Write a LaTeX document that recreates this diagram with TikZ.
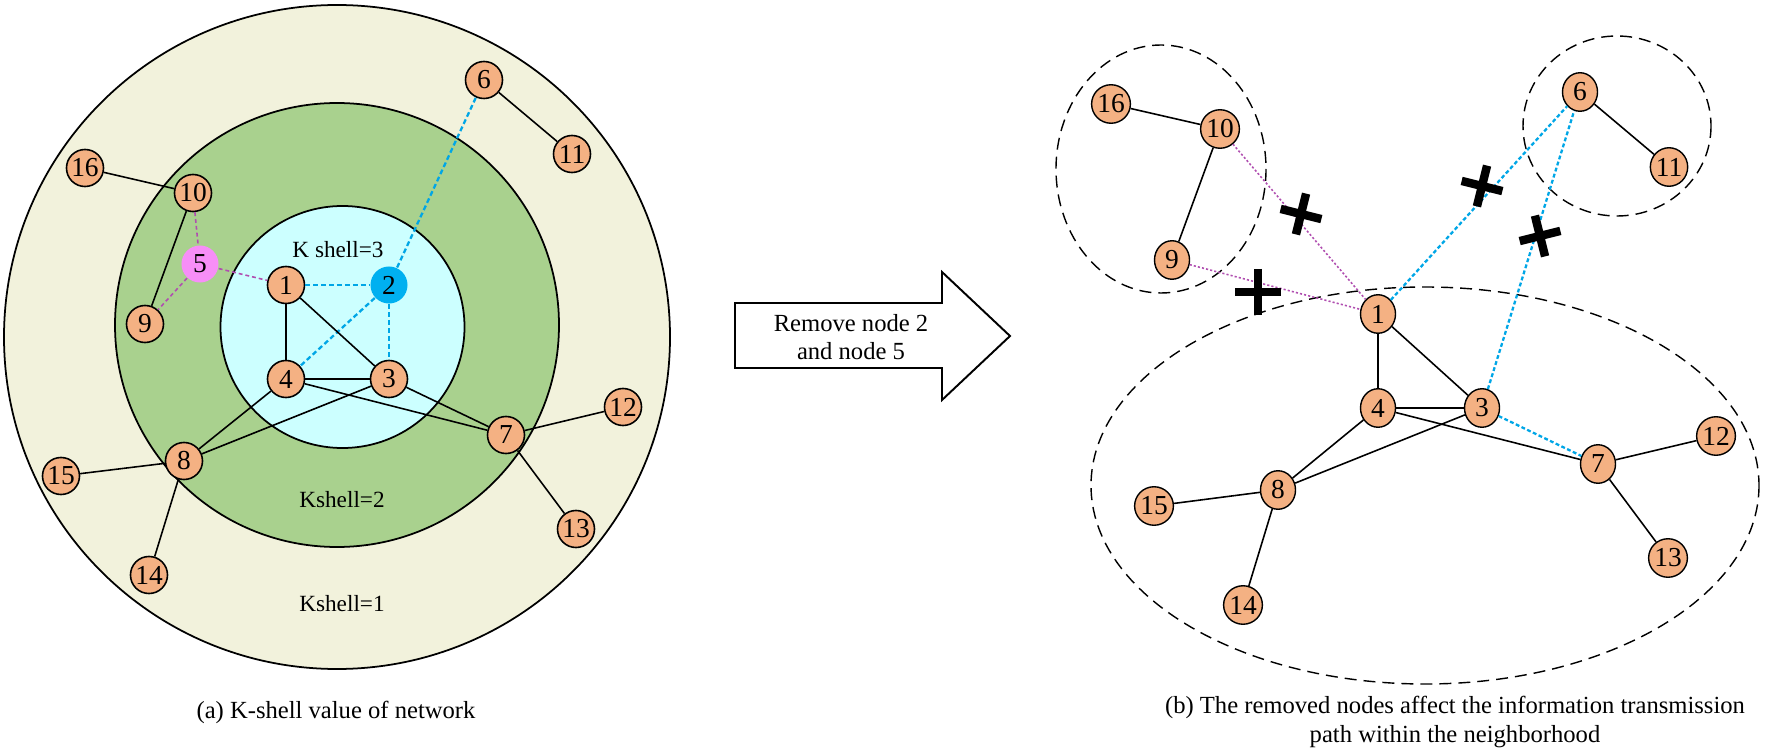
\documentclass[tikz,border=0pt]{standalone}
\usepackage{fontspec}
\setmainfont{Liberation Serif}
\usetikzlibrary{shapes.geometric}
\definecolor{nodeor}{HTML}{F4B183}
\definecolor{shellone}{HTML}{F2F2DC}
\definecolor{shelltwo}{HTML}{A9D18E}
\definecolor{shellthree}{HTML}{CCFFFF}
\definecolor{bluenode}{HTML}{00B0F0}
\definecolor{pinknode}{HTML}{F78EF7}
\definecolor{magline}{HTML}{B04EB0}
\definecolor{blueline}{HTML}{00A6E6}
\begin{document}
\begin{tikzpicture}[x=0.01cm,y=-0.01cm,
  nd/.style={circle,draw=black,line width=0.45pt,fill=nodeor,minimum size=0.37cm,inner sep=0pt,font=\fontsize{7.8}{8}\selectfont},
  rnd/.style={ellipse,draw=black,line width=0.4pt,fill=nodeor,minimum width=0.35cm,minimum height=0.385cm,inner sep=0pt,font=\fontsize{7.8}{8}\selectfont},
  sedge/.style={line width=0.45pt},
  magedge/.style={draw=magline,line width=0.45pt,dash pattern=on 1.1pt off 0.85pt},
  blueedge/.style={draw=blueline,line width=0.65pt,dash pattern=on 1.4pt off 0.85pt},
  rmagedge/.style={draw=magline,line width=0.45pt,dash pattern=on 0.6pt off 0.6pt},
  rblueedge/.style={draw=blueline,line width=0.65pt,dash pattern=on 1.1pt off 0.7pt},
  shelltxt/.style={font=\fontsize{6.6}{8}\selectfont},
  captxt/.style={font=\fontsize{7}{8}\selectfont,align=center},
  group/.style={draw=black,line width=0.4pt,dash pattern=on 3.4pt off 2pt},
  crossmark/.style={line width=2.4pt}]
\useasboundingbox (0,0) rectangle (1770,755);

% ---------- left panel: shells ----------
\path[fill=shellone,draw=black,line width=0.5pt] (337,337) ellipse [x radius=333, y radius=332];
\path[fill=shelltwo,draw=black,line width=0.5pt] (337,325) ellipse [x radius=222, y radius=222];
\path[fill=shellthree,draw=black,line width=0.5pt] (342.5,327) ellipse [x radius=122, y radius=121];

\node[shelltxt] (k3) at (338,250) {K shell=3};
\node[shelltxt] (k2) at (342,500) {Kshell=2};
\node[shelltxt] (k1) at (342,604) {Kshell=1};

% left nodes
\node[nd] (a1) at (286,285) {1};
\node[nd,fill=bluenode,draw=none] (a2) at (389,285) {2};
\node[nd] (a3) at (389,379) {3};
\node[nd] (a4) at (286,379) {4};
\node[nd,fill=pinknode,draw=none] (a5) at (200,264) {5};
\node[nd] (a6) at (484,80) {6};
\node[nd] (a7) at (506,435) {7};
\node[nd] (a8) at (184,461) {8};
\node[nd] (a9) at (145,324) {9};
\node[nd] (a10) at (193,193) {10};
\node[nd] (a11) at (572,154) {11};
\node[nd] (a12) at (623,407) {12};
\node[nd] (a13) at (576,529) {13};
\node[nd] (a14) at (149,575) {14};
\node[nd] (a15) at (61,476) {15};
\node[nd] (a16) at (85,168) {16};

% left edges
\draw[sedge] (a16) -- (a10);
\draw[sedge] (a10) -- (a9);
\draw[magedge] (a10) -- (a5);
\draw[magedge] (a5) -- (a9);
\draw[magedge] (a5) -- (a1);
\draw[blueedge] (a1) -- (a2);
\draw[blueedge] (a2) -- (a6);
\draw[blueedge] (a2) -- (a4);
\draw[blueedge] (a2) -- (a3);
\draw[sedge] (a1) -- (a4);
\draw[sedge] (a1) -- (a3);
\draw[sedge] (a4) -- (a3);
\draw[sedge] (a4) -- (a8);
\draw[sedge] (a3) -- (a8);
\draw[sedge] (a4) -- (a7);
\draw[sedge] (a3) -- (a7);
\draw[sedge] (a8) -- (a15);
\draw[sedge] (a8) -- (a14);
\draw[sedge] (a7) -- (a12);
\draw[sedge] (a7) -- (a13);
\draw[sedge] (a6) -- (a11);

\node[captxt] (capa) at (336,712) {(a) K-shell value of network};

% ---------- arrow ----------
\draw[fill=white,line width=0.55pt,line join=miter]
  (735,303) -- (942,303) -- (942,272) -- (1010,336) -- (942,400) -- (942,368) -- (735,368) -- cycle;
\node[captxt] (arrowtxt) at (851,337) {Remove node 2\\and node 5};

% ---------- right panel ----------
\draw[group] (1161,169) ellipse [x radius=105, y radius=124];
\draw[group] (1617,126) ellipse [x radius=94, y radius=90];
\draw[group] (1425,485.5) ellipse [x radius=334, y radius=198.5];

\node[rnd] (b1) at (1378,314) {1};
\node[rnd] (b3) at (1482,408) {3};
\node[rnd] (b4) at (1378,408) {4};
\node[rnd] (b6) at (1580,92) {6};
\node[rnd] (b7) at (1598,464) {7};
\node[rnd] (b8) at (1278,490) {8};
\node[rnd] (b9) at (1172,260) {9};
\node[rnd] (b10) at (1220,129) {10};
\node[rnd] (b11) at (1669,167) {11};
\node[rnd] (b12) at (1716,436) {12};
\node[rnd] (b13) at (1668,558) {13};
\node[rnd] (b14) at (1243,605) {14};
\node[rnd] (b15) at (1154,506) {15};
\node[rnd] (b16) at (1111,104) {16};

\draw[sedge] (b16) -- (b10);
\draw[sedge] (b10) -- (b9);
\draw[sedge] (b6) -- (b11);
\draw[rmagedge] (b10) -- (b1);
\draw[rmagedge] (b9) -- (b1);
\draw[rblueedge] (b1) -- (b6);
\draw[rblueedge] (b3) -- (b6);
\draw[rblueedge] (b3) -- (b7);
\draw[sedge] (b1) -- (b4);
\draw[sedge] (b1) -- (b3);
\draw[sedge] (b4) -- (b3);
\draw[sedge] (b4) -- (b8);
\draw[sedge] (b3) -- (b8);
\draw[sedge] (b4) -- (b7);
\draw[sedge] (b7) -- (b12);
\draw[sedge] (b7) -- (b13);
\draw[sedge] (b8) -- (b15);
\draw[sedge] (b8) -- (b14);

% crosses
\begin{scope}[shift={(1301,214)},rotate=-14]
  \draw[crossmark] (-21,0) -- (21,0) (0,-21) -- (0,21);
\end{scope}
\begin{scope}[shift={(1482,186)},rotate=-14]
  \draw[crossmark] (-21,0) -- (21,0) (0,-21) -- (0,21);
\end{scope}
\begin{scope}[shift={(1540,236)},rotate=14]
  \draw[crossmark] (-21,0) -- (21,0) (0,-21) -- (0,21);
\end{scope}
\begin{scope}[shift={(1258,292)}]
  \draw[crossmark] (-23,0) -- (23,0) (0,-23) -- (0,23);
\end{scope}

\node[captxt] (capb) at (1455,722) {(b) The removed nodes affect the information transmission\\path within the neighborhood};
\end{tikzpicture}
\end{document}
